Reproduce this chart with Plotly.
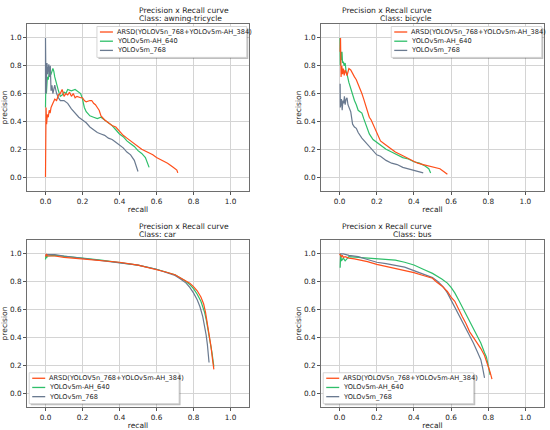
import plotly.graph_objects as go

# legend names and colours
names = ["ARSD(YOLOV5n_768+YOLOv5m-AH_384)", "YOLOv5m-AH_640", "YOLOv5m_768"]
colors = ["#ff4f1a", "#2fbf6a", "#6a7a90"]
classes = ["awning-tricycle", "bicycle", "car", "bus"]

# --- awning-tricycle
awn_arsd_r = [0, 0, 0.003, 0.006, 0.01, 0.015, 0.02, 0.025, 0.03, 0.04, 0.05, 0.06, 0.07, 0.08,
              0.09, 0.1, 0.11, 0.12, 0.13, 0.14, 0.15, 0.16, 0.17, 0.19, 0.2, 0.21, 0.22, 0.24,
              0.25, 0.26, 0.27, 0.28, 0.29, 0.3, 0.32, 0.34, 0.36, 0.38, 0.4, 0.42, 0.44, 0.46,
              0.48, 0.5, 0.52, 0.55, 0.58, 0.6, 0.63, 0.66, 0.69, 0.71, 0.715]
awn_arsd_p = [0.0, 0.3, 0.5, 0.38, 0.45, 0.43, 0.48, 0.46, 0.5, 0.53, 0.56, 0.55, 0.59, 0.6,
              0.63, 0.58, 0.6, 0.59, 0.61, 0.58, 0.6, 0.57, 0.58, 0.57, 0.57, 0.55, 0.54, 0.55,
              0.55, 0.53, 0.52, 0.5, 0.48, 0.44, 0.41, 0.39, 0.37, 0.36, 0.33, 0.3, 0.28, 0.26,
              0.24, 0.22, 0.2, 0.18, 0.16, 0.14, 0.12, 0.1, 0.07, 0.05, 0.03]
awn_ah_r = [0, 0.002, 0.005, 0.01, 0.015, 0.02, 0.03, 0.04, 0.045, 0.05, 0.06, 0.07, 0.08, 0.09,
            0.1, 0.11, 0.12, 0.14, 0.16, 0.18, 0.19, 0.2, 0.21, 0.22, 0.24, 0.26, 0.28, 0.3,
            0.32, 0.34, 0.36, 0.38, 0.4, 0.42, 0.44, 0.46, 0.48, 0.5, 0.52, 0.54, 0.55, 0.56]
awn_ah_p = [0.5, 0.7, 0.6, 0.72, 0.7, 0.75, 0.74, 0.78, 0.76, 0.72, 0.66, 0.62, 0.58, 0.59,
            0.61, 0.6, 0.63, 0.62, 0.63, 0.61, 0.6, 0.56, 0.5, 0.47, 0.44, 0.43, 0.42, 0.43,
            0.41, 0.39, 0.37, 0.34, 0.31, 0.29, 0.26, 0.24, 0.22, 0.19, 0.17, 0.14, 0.11, 0.07]
awn_v5_r = [0, 0, 0.003, 0.008, 0.012, 0.018, 0.022, 0.026, 0.03, 0.035, 0.04, 0.05, 0.06, 0.07,
            0.08, 0.1, 0.12, 0.14, 0.16, 0.18, 0.2, 0.22, 0.24, 0.26, 0.28, 0.3, 0.32, 0.34,
            0.36, 0.38, 0.4, 0.42, 0.44, 0.46, 0.48, 0.49, 0.5]
awn_v5_p = [0.6, 1.0, 0.6, 0.82, 0.74, 0.81, 0.72, 0.8, 0.62, 0.66, 0.6, 0.66, 0.6, 0.57,
            0.55, 0.55, 0.53, 0.49, 0.46, 0.43, 0.41, 0.39, 0.36, 0.34, 0.32, 0.31, 0.3, 0.28,
            0.27, 0.25, 0.23, 0.21, 0.18, 0.16, 0.12, 0.08, 0.04]

# --- bicycle
bic_arsd_r = [0.003, 0.005, 0.008, 0.012, 0.016, 0.02, 0.025, 0.03, 0.04, 0.05, 0.06, 0.07, 0.08,
              0.09, 0.1, 0.11, 0.12, 0.13, 0.14, 0.15, 0.16, 0.17, 0.18, 0.19, 0.2, 0.21, 0.22,
              0.24, 0.26, 0.28, 0.3, 0.33, 0.36, 0.39, 0.42, 0.45, 0.48, 0.51, 0.54, 0.56, 0.58]
bic_arsd_p = [0.9, 1.0, 0.72, 0.8, 0.74, 0.78, 0.73, 0.77, 0.73, 0.78, 0.77, 0.74, 0.72,
              0.7, 0.67, 0.63, 0.6, 0.56, 0.52, 0.48, 0.43, 0.41, 0.38, 0.35, 0.32, 0.29, 0.26,
              0.24, 0.22, 0.2, 0.18, 0.16, 0.14, 0.12, 0.1, 0.09, 0.08, 0.07, 0.06, 0.04, 0.02]
bic_ah_r = [0.002, 0.004, 0.007, 0.01, 0.013, 0.016, 0.02, 0.025, 0.03, 0.035, 0.04, 0.05, 0.06,
            0.07, 0.08, 0.09, 0.1, 0.11, 0.12, 0.13, 0.14, 0.15, 0.16, 0.18, 0.2, 0.22, 0.25,
            0.28, 0.31, 0.34, 0.37, 0.4, 0.43, 0.46, 0.48, 0.49]
bic_ah_p = [1.0, 0.8, 0.9, 0.84, 0.9, 0.82, 0.83, 0.8, 0.82, 0.76, 0.74, 0.68, 0.63,
            0.6, 0.55, 0.52, 0.48, 0.47, 0.46, 0.42, 0.38, 0.34, 0.31, 0.27, 0.25, 0.23, 0.2,
            0.18, 0.16, 0.14, 0.13, 0.11, 0.1, 0.08, 0.06, 0.03]
bic_v5_r = [0.003, 0.004, 0.006, 0.01, 0.014, 0.018, 0.022, 0.026, 0.03, 0.035, 0.04, 0.045,
            0.05, 0.06, 0.07, 0.08, 0.09, 0.1, 0.12, 0.14, 0.16, 0.18, 0.2, 0.22, 0.25, 0.28,
            0.31, 0.34, 0.37, 0.4, 0.43, 0.45]
bic_v5_p = [0.67, 0.5, 0.52, 0.56, 0.48, 0.55, 0.53, 0.58, 0.52, 0.56, 0.57, 0.52,
            0.5, 0.47, 0.38, 0.36, 0.35, 0.32, 0.28, 0.25, 0.22, 0.19, 0.16, 0.15, 0.12, 0.1,
            0.09, 0.07, 0.06, 0.05, 0.04, 0.03]

# --- car
car_arsd_r = [0, 0.005, 0.01, 0.05, 0.1, 0.2, 0.3, 0.4, 0.5, 0.6, 0.65, 0.7, 0.75, 0.78, 0.8,
              0.82, 0.84, 0.855, 0.865, 0.875, 0.885, 0.895, 0.903, 0.91]
car_arsd_p = [0.98, 1.0, 0.985, 0.985, 0.975, 0.965, 0.955, 0.94, 0.92, 0.89, 0.87, 0.85,
              0.815, 0.79, 0.765, 0.735, 0.69, 0.64, 0.58, 0.5, 0.42, 0.33, 0.24, 0.17]
car_ah_r = [0, 0.003, 0.006, 0.01, 0.05, 0.1, 0.2, 0.3, 0.4, 0.5, 0.6, 0.65, 0.7, 0.75, 0.78,
            0.8, 0.82, 0.84, 0.85, 0.86, 0.87, 0.88, 0.89, 0.9, 0.91]
car_ah_p = [0.96, 0.99, 0.97, 0.985, 0.99, 0.985, 0.97, 0.955, 0.94, 0.92, 0.89, 0.87, 0.85,
            0.81, 0.78, 0.75, 0.71, 0.66, 0.62, 0.58, 0.52, 0.45, 0.38, 0.29, 0.19]
car_v5_r = [0, 0.05, 0.1, 0.2, 0.3, 0.4, 0.5, 0.6, 0.65, 0.7, 0.73, 0.76, 0.78, 0.8, 0.82,
            0.835, 0.85, 0.86, 0.868, 0.875, 0.88, 0.884]
car_v5_p = [0.995, 0.995, 0.985, 0.97, 0.955, 0.94, 0.92, 0.89, 0.87, 0.845, 0.82, 0.79,
            0.76, 0.72, 0.67, 0.62, 0.55, 0.49, 0.42, 0.35, 0.28, 0.22]

# --- bus
bus_arsd_r = [0, 0.01, 0.015, 0.02, 0.03, 0.05, 0.08, 0.1, 0.15, 0.2, 0.25, 0.3, 0.35, 0.4,
              0.45, 0.5, 0.52, 0.55, 0.58, 0.6, 0.62, 0.64, 0.66, 0.68, 0.7, 0.72, 0.74, 0.76,
              0.78, 0.8, 0.81, 0.82]
bus_arsd_p = [1.0, 0.98, 0.99, 0.975, 0.98, 0.97, 0.965, 0.96, 0.945, 0.925, 0.91, 0.895, 0.885,
              0.865, 0.845, 0.825, 0.8, 0.77, 0.73, 0.69, 0.66, 0.6, 0.55, 0.5, 0.44, 0.4, 0.36,
              0.32, 0.27, 0.2, 0.15, 0.1]
bus_ah_r = [0.003, 0.006, 0.01, 0.02, 0.03, 0.05, 0.1, 0.15, 0.2, 0.25, 0.3, 0.35, 0.4, 0.45,
            0.5, 0.55, 0.58, 0.6, 0.62, 0.64, 0.66, 0.68, 0.7, 0.72, 0.74, 0.76, 0.78, 0.79,
            0.8, 0.81]
bus_ah_p = [0.9, 1.0, 0.95, 0.97, 0.95, 0.98, 0.975, 0.97, 0.965, 0.96, 0.955, 0.94, 0.92, 0.89,
            0.86, 0.82, 0.79, 0.76, 0.72, 0.67, 0.62, 0.57, 0.51, 0.46, 0.41, 0.36, 0.29, 0.26,
            0.2, 0.13]
bus_v5_r = [0, 0.02, 0.05, 0.1, 0.15, 0.2, 0.25, 0.3, 0.35, 0.4, 0.45, 0.5, 0.53, 0.56, 0.58,
            0.6, 0.62, 0.64, 0.66, 0.68, 0.7, 0.72, 0.74, 0.76, 0.77, 0.78]
bus_v5_p = [1.0, 1.0, 0.99, 0.98, 0.96, 0.94, 0.93, 0.92, 0.905, 0.88, 0.855, 0.83, 0.8, 0.76,
            0.72, 0.67, 0.62, 0.57, 0.52, 0.47, 0.41, 0.36, 0.3, 0.24, 0.18, 0.11]

curves = [
    [(awn_arsd_r, awn_arsd_p), (awn_ah_r, awn_ah_p), (awn_v5_r, awn_v5_p)],
    [(bic_arsd_r, bic_arsd_p), (bic_ah_r, bic_ah_p), (bic_v5_r, bic_v5_p)],
    [(car_arsd_r, car_arsd_p), (car_ah_r, car_ah_p), (car_v5_r, car_v5_p)],
    [(bus_arsd_r, bus_arsd_p), (bus_ah_r, bus_ah_p), (bus_v5_r, bus_v5_p)],
]

W, H = 550, 430
# panel boxes in pixels: left, right, top, bottom
boxes = [(27, 249, 24, 191), (321, 544, 24, 191), (27, 249, 240, 407), (321, 544, 240, 407)]
legend_at = ["top", "top", "bottom", "bottom"]

FONT = "DejaVu Sans"
TXT = "#222"
fig = go.Figure()

for i, (cls, box) in enumerate(zip(classes, boxes)):
    n = "" if i == 0 else str(i + 1)
    xa, ya = "x" + n, "y" + n
    l, r, t, b = box
    # draw order: green, gray, then orange on top like the reference
    for j in [1, 2, 0]:
        rr, pp = curves[i][j]
        fig.add_trace(go.Scatter(x=rr, y=pp, mode="lines", name=names[j],
                                 line=dict(color=colors[j], width=1.2),
                                 showlegend=False, xaxis=xa, yaxis=ya))
    axstyle = dict(showgrid=True, gridcolor="#d4d4d4", gridwidth=0.9, zeroline=False,
                   showline=True, linecolor="#6e6e6e", linewidth=1, mirror=True,
                   ticks="outside", ticklen=3, tickcolor="#555", tickwidth=0.8,
                   tickfont=dict(size=7.3, color=TXT, family=FONT),
                   range=[-0.1, 1.1], tickvals=[0, 0.2, 0.4, 0.6, 0.8, 1.0],
                   tickformat=".1f")
    fig.layout["xaxis" + n] = dict(axstyle, domain=[l / W, r / W], anchor=ya,
                                   title=dict(text="recall", font=dict(size=7.5, family=FONT, color=TXT),
                                              standoff=1))
    fig.layout["yaxis" + n] = dict(axstyle, domain=[1 - b / H, 1 - t / H], anchor=xa,
                                   title=dict(text="precision", font=dict(size=7.5, family=FONT, color=TXT),
                                              standoff=1))
    cx = (l + r) / 2 / W
    fig.add_annotation(x=cx, y=1 - (t - 13.9) / H, xref="paper", yref="paper",
                       text="Precision x Recall curve", showarrow=False, borderpad=0,
                       font=dict(size=7.6, family=FONT, color=TXT), yanchor="middle")
    fig.add_annotation(x=cx, y=1 - (t - 5.6) / H, xref="paper", yref="paper",
                       text="Class: " + cls, showarrow=False, borderpad=0,
                       font=dict(size=7.6, family=FONT, color=TXT), yanchor="middle")

    # matplotlib-style legend box
    xd, yd = xa + " domain", ya + " domain"
    if legend_at[i] == "top":
        bx0, bx1, by0, by1 = 0.315, 0.99, 0.80, 0.985
    else:
        bx0, bx1, by0, by1 = 0.01, 0.685, 0.02, 0.205
    pw, ph = r - l, b - t
    fig.add_shape(type="rect", xref=xd, yref=yd, x0=bx0 + 1.5 / pw, x1=bx1 + 1.5 / pw,
                  y0=by0 - 1.5 / ph, y1=by1 - 1.5 / ph, fillcolor="rgba(0,0,0,0.25)",
                  line=dict(width=0), layer="above")
    fig.add_shape(type="rect", xref=xd, yref=yd, x0=bx0, x1=bx1, y0=by0, y1=by1,
                  fillcolor="white", line=dict(color="#cccccc", width=0.8), layer="above")
    for k in range(3):
        yy = by1 - (5.5 + 9.2 * k) / ph
        fig.add_shape(type="line", xref=xd, yref=yd, x0=bx0 + 3 / pw, x1=bx0 + 16 / pw,
                      y0=yy, y1=yy, line=dict(color=colors[k], width=1.3), layer="above")
        fig.add_annotation(x=bx0 + 19 / pw, y=yy, xref=xd, yref=yd, text=names[k],
                           showarrow=False, xanchor="left", yanchor="middle", borderpad=0,
                           font=dict(size=6.6, family=FONT, color=TXT))

fig.update_layout(width=W, height=H, margin=dict(l=0, r=0, t=0, b=0),
                  paper_bgcolor="white", plot_bgcolor="white", showlegend=False)

# the page body has a default 8px margin; drop it so the figure fills the window
fig.write_html("out.html", config={"displayModeBar": False},
               post_script="document.body.style.margin='0';")
